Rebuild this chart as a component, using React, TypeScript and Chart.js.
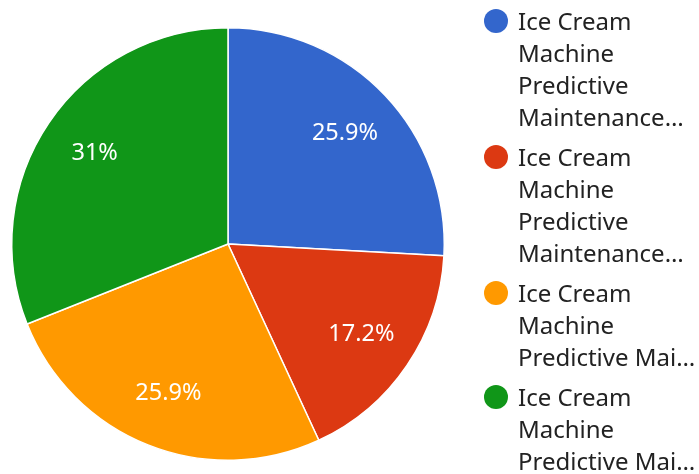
import React, { useEffect, useRef } from "react";
import { Chart, registerables } from "chart.js";

Chart.register(...registerables);

const categories = [
  "Ice Cream Machine Predictive Maintenance A",
  "Ice Cream Machine Predictive Maintenance B",
  "Ice Cream Machine Predictive Maintenance C",
  "Ice Cream Machine Predictive Maintenance D",
];
const values = [15, 10, 15, 18];
const colors = ["#3366cc", "#dc3912", "#ff9900", "#109618"];
const legendLines = [
  ["Ice Cream", "Machine", "Predictive", "Maintenance…"],
  ["Ice Cream", "Machine", "Predictive", "Maintenance…"],
  ["Ice Cream", "Machine", "Predictive Mai…"],
  ["Ice Cream", "Machine", "Predictive Mai…"],
];

const FONT = "'Noto Sans', 'Open Sans', sans-serif";

// Writes each slice's share just inside the rim, like the classic pie style.
const percentLabels = {
  id: "percentLabels",
  afterDatasetsDraw(chart: any) {
    const ctx = chart.ctx;
    const meta = chart.getDatasetMeta(0);
    const data = chart.data.datasets[0].data as number[];
    const total = data.reduce((a, b) => a + b, 0);
    ctx.save();
    ctx.fillStyle = "#ffffff";
    ctx.font = `23.5px ${FONT}`;
    ctx.textAlign = "center";
    ctx.textBaseline = "middle";
    meta.data.forEach((arc: any, i: number) => {
      const p = arc.getProps(["x", "y", "startAngle", "endAngle", "outerRadius"], true);
      const mid = (p.startAngle + p.endAngle) / 2;
      const d = p.outerRadius * 0.745;
      const pct = Math.round((data[i] / total) * 1000) / 10;
      ctx.fillText(`${pct}%`, p.x + Math.cos(mid) * d, p.y + Math.sin(mid) * d);
    });
    ctx.restore();
  },
};

export default function App() {
  const ref = useRef<HTMLCanvasElement>(null);

  useEffect(() => {
    if (!ref.current) return;
    const chart = new Chart(ref.current, {
      type: "pie",
      data: {
        labels: categories,
        datasets: [
          {
            data: values,
            backgroundColor: colors,
            borderColor: "#ffffff",
            borderWidth: 1.5,
          },
        ],
      },
      options: {
        animation: false,
        responsive: false,
        layout: { padding: { left: 11, top: 27, right: 254, bottom: 13 } },
        plugins: {
          legend: { display: false },
          tooltip: { enabled: false },
        },
      },
      plugins: [percentLabels],
    });
    return () => chart.destroy();
  }, []);

  let y = 5;
  const items = legendLines.map((lines, i) => {
    const top = y;
    y += lines.length * 32 + 8;
    return (
      <div key={i} style={{ position: "absolute", left: 484, top }}>
        <div
          style={{
            position: "absolute",
            left: 0,
            top: 4,
            width: 24,
            height: 24,
            borderRadius: "50%",
            background: colors[i],
          }}
        />
        <div style={{ position: "absolute", left: 34, top: 0, width: 200 }}>
          {lines.map((t, j) => (
            <div key={j} style={{ height: 32, lineHeight: "32px", whiteSpace: "nowrap" }}>
              {t}
            </div>
          ))}
        </div>
      </div>
    );
  });

  return (
    <div
      style={{
        position: "fixed",
        left: 0,
        top: 0,
        width: 699,
        height: 474,
        background: "#ffffff",
        fontFamily: FONT,
        fontSize: 24,
        color: "#222222",
      }}
    >
      <canvas ref={ref} width={699} height={474} style={{ position: "absolute", left: 0, top: 0 }} />
      {items}
    </div>
  );
}
